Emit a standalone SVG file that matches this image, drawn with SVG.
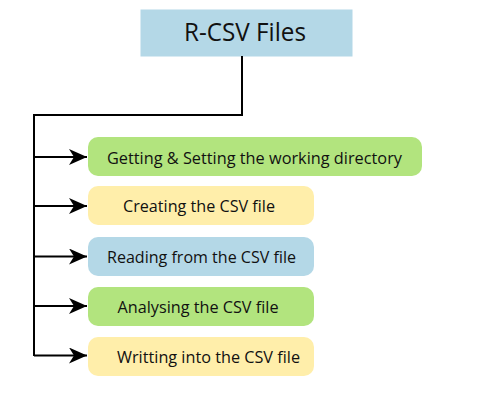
<svg xmlns="http://www.w3.org/2000/svg" width="500" height="400" viewBox="0 0 500 400">
<style>
text{font-family:"Open Sans","Liberation Sans",sans-serif;fill:#111;}
.item{font-size:17px;}
.blue{fill:#b4d8e7;}
.green{fill:#b2e47e;}
.yellow{fill:#ffeeaa;}
.conn{fill:none;stroke:#000;stroke-width:2;}
</style>
<defs>
<marker id="arr" viewBox="0 0 20 16" refX="18" refY="8" markerWidth="20" markerHeight="16" markerUnits="userSpaceOnUse" orient="auto">
<path d="M0,0 L18,8 L0,16 L5,8 Z" fill="#000"/>
</marker>
</defs>
<g id="root">
<rect class="blue" x="140.5" y="9.5" width="212" height="47"/>
<text x="184" y="41" font-size="26" textLength="122" lengthAdjust="spacingAndGlyphs">R-CSV Files</text>
</g>
<g id="connectors">
<path class="conn" d="M242,56 V115 H34 V356"/>
<path class="conn" d="M34,157 H87" marker-end="url(#arr)"/>
<path class="conn" d="M34,206 H87" marker-end="url(#arr)"/>
<path class="conn" d="M34,256.5 H87" marker-end="url(#arr)"/>
<path class="conn" d="M34,306 H87" marker-end="url(#arr)"/>
<path class="conn" d="M34,355.5 H87" marker-end="url(#arr)"/>
</g>
<g id="n1">
<rect class="green" x="88" y="137" width="334" height="39" rx="10"/>
<text class="item" x="107" y="163.5" textLength="295" lengthAdjust="spacingAndGlyphs">Getting &amp; Setting the working directory</text>
</g>
<g id="n2">
<rect class="yellow" x="88" y="186" width="226" height="39" rx="10"/>
<text class="item" x="123" y="212" textLength="152" lengthAdjust="spacingAndGlyphs">Creating the CSV file</text>
</g>
<g id="n3">
<rect class="blue" x="88" y="237" width="226" height="39" rx="10"/>
<text class="item" x="107" y="263" textLength="189" lengthAdjust="spacingAndGlyphs">Reading from the CSV file</text>
</g>
<g id="n4">
<rect class="green" x="88" y="287" width="226" height="39" rx="10"/>
<text class="item" x="117.5" y="312.5" textLength="161" lengthAdjust="spacingAndGlyphs">Analysing the CSV file</text>
</g>
<g id="n5">
<rect class="yellow" x="88" y="337" width="226" height="39" rx="10"/>
<text class="item" x="117" y="362.5" textLength="183" lengthAdjust="spacingAndGlyphs">Writting into the CSV file</text>
</g>
</svg>
